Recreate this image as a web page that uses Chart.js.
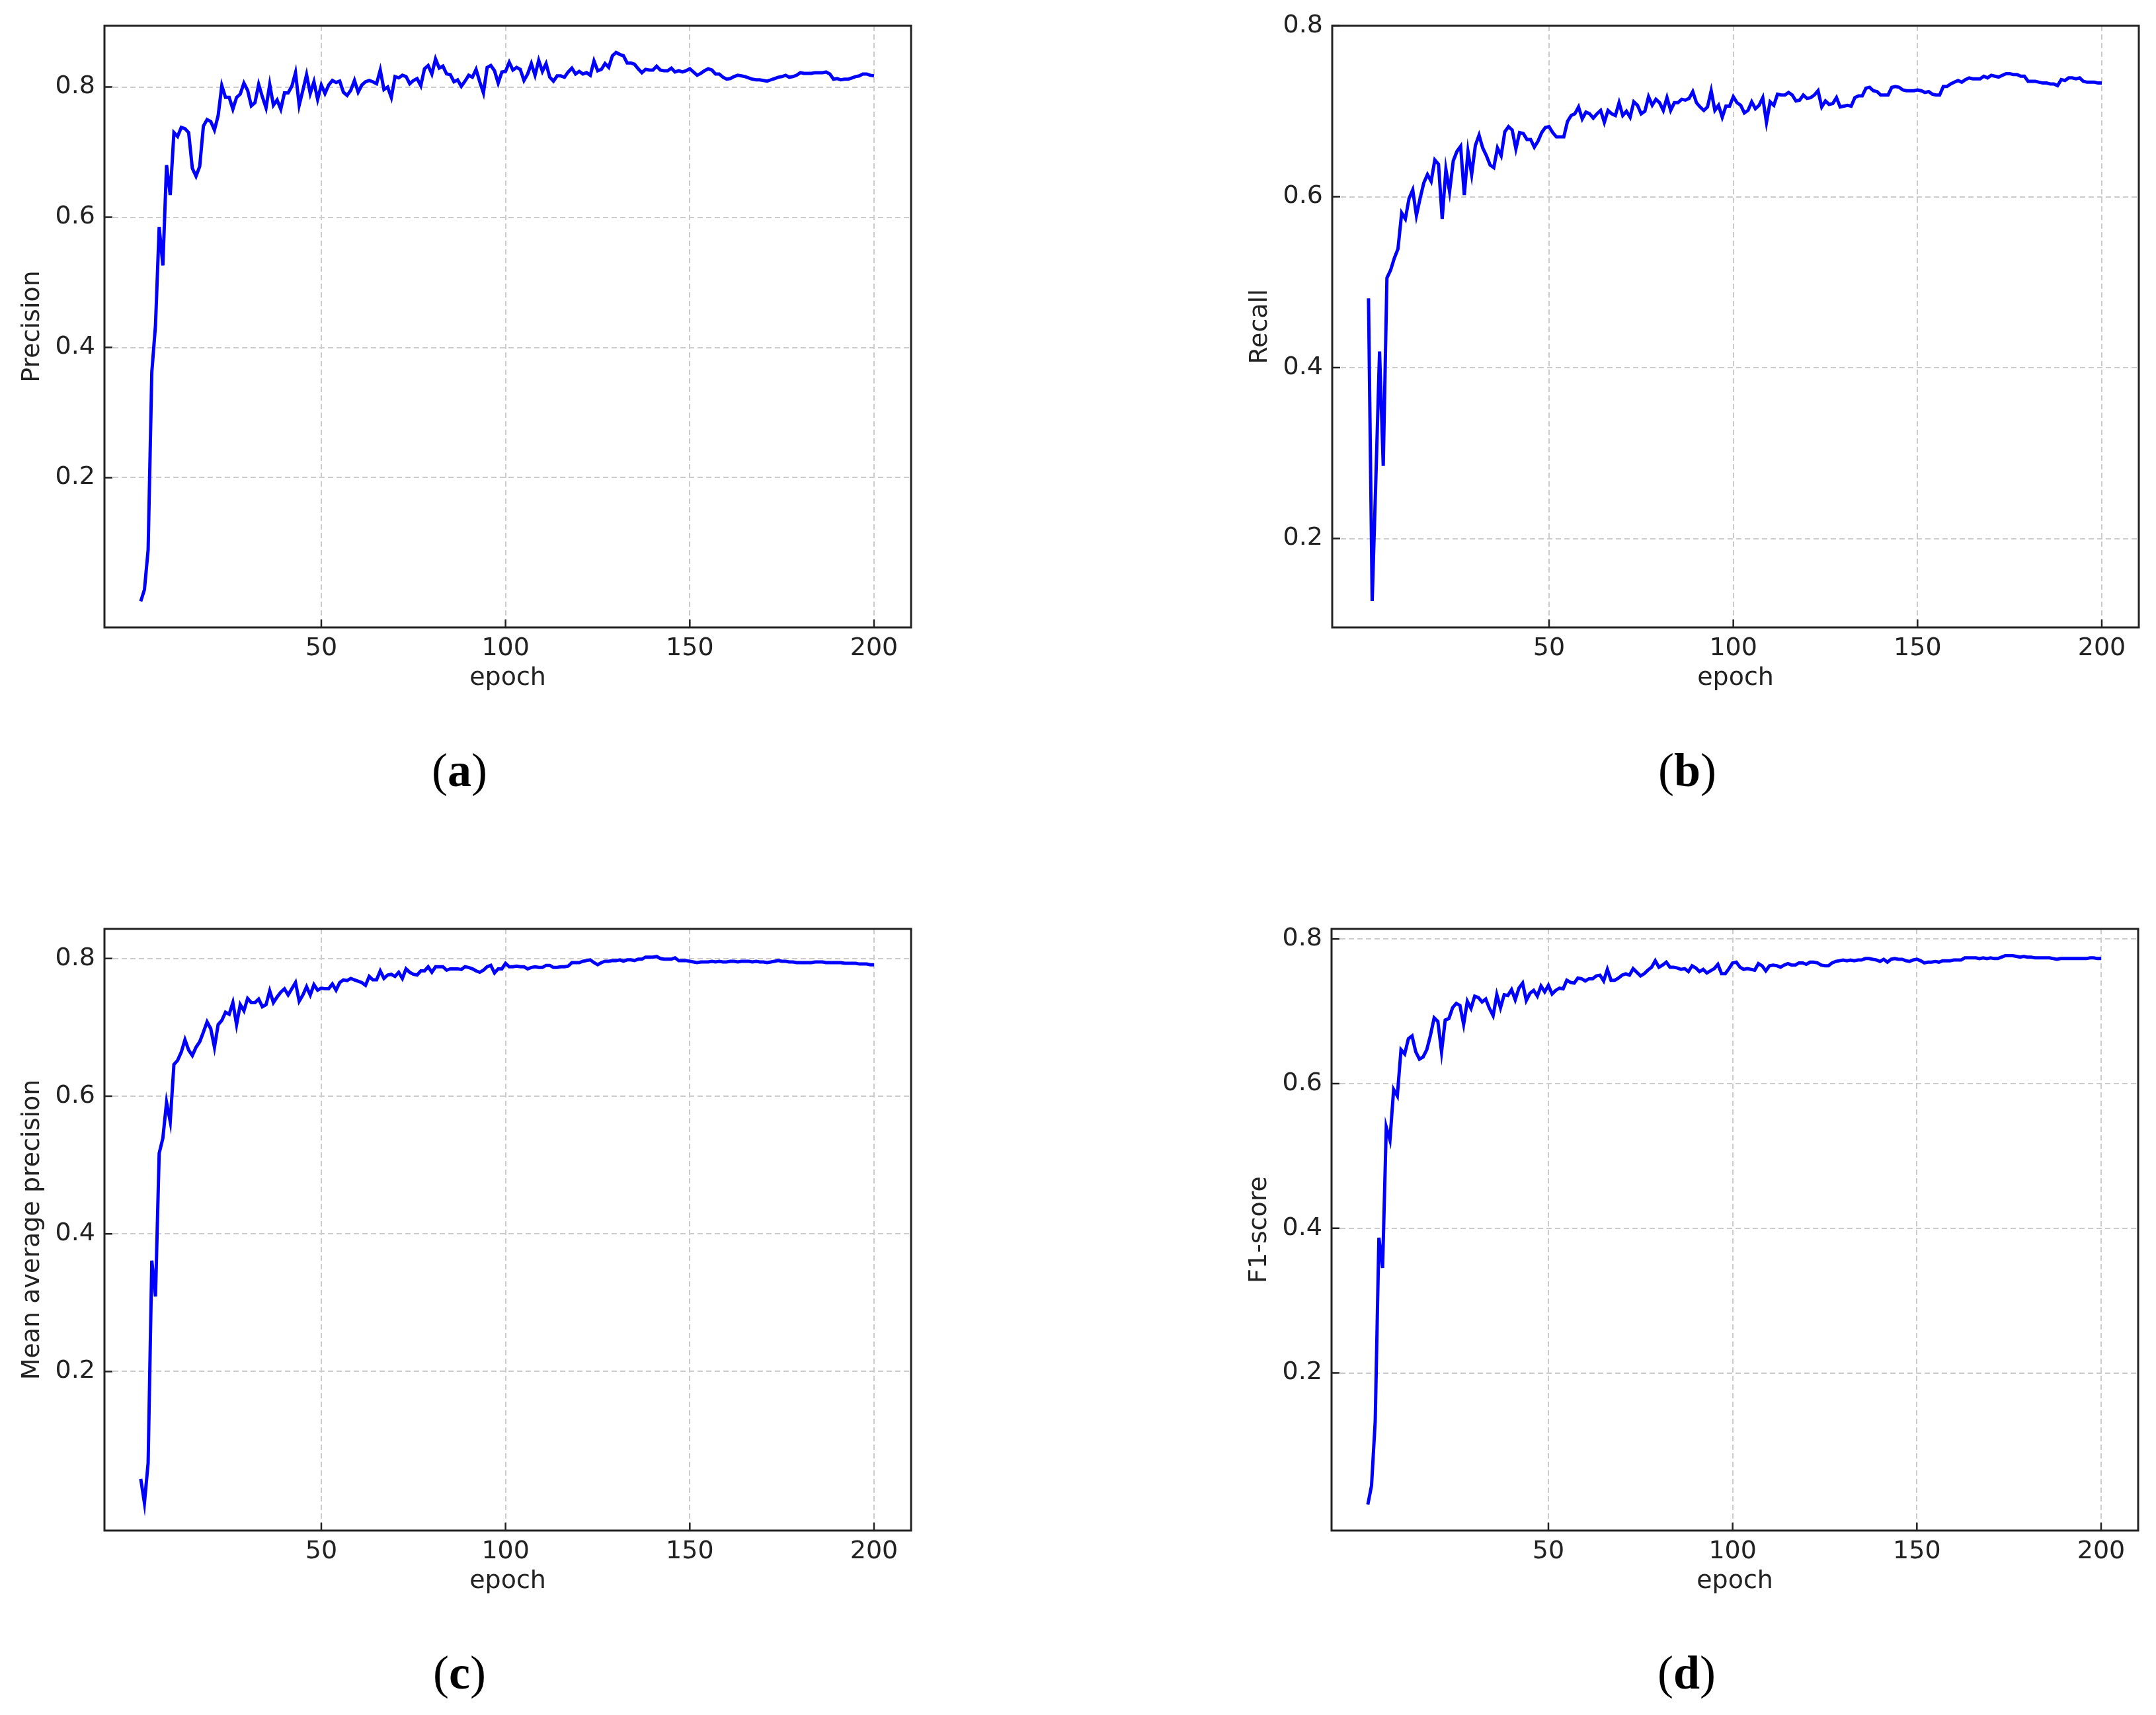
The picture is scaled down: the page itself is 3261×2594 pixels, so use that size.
<!DOCTYPE html>
<html>
<head>
<meta charset="utf-8">
<script src="https://cdn.jsdelivr.net/npm/chart.js@4"></script>
<style>
  body { margin: 0; background: #fff; width: 3261px; height: 2594px; position: relative; overflow: hidden; }
  .panel { position: absolute; }
  .tag { position: absolute; transform: translate(-50%, -50%); font-family: "Liberation Serif", serif; font-size: 72px; color: #000; }
</style>
</head>
<body>
<div class="panel" style="left:0px;top:0px"><canvas id="precChart" width="1398" height="1049"></canvas></div>
<div class="panel" style="left:1857px;top:0px"><canvas id="recChart" width="1398" height="1049"></canvas></div>
<div class="panel" style="left:0px;top:1366px"><canvas id="mapChart" width="1398" height="1049"></canvas></div>
<div class="panel" style="left:1856px;top:1366px"><canvas id="f1Chart" width="1398" height="1049"></canvas></div>
<div class="tag" style="left:695px;top:1165px">(<b>a</b>)</div>
<div class="tag" style="left:2552px;top:1165px">(<b>b</b>)</div>
<div class="tag" style="left:695px;top:2530px">(<b>c</b>)</div>
<div class="tag" style="left:2551px;top:2530px">(<b>d</b>)</div>
<script>
// values read per epoch (1..200)
const precision = [
  0.010,0.028,0.089,0.362,0.434,0.585,0.526,0.680,0.634,0.730,
  0.724,0.738,0.736,0.730,0.675,0.663,0.678,0.740,0.750,0.747,
  0.734,0.756,0.802,0.784,0.784,0.766,0.784,0.789,0.806,0.795,
  0.771,0.776,0.804,0.785,0.768,0.804,0.772,0.780,0.766,0.791,
  0.791,0.801,0.822,0.772,0.795,0.819,0.790,0.808,0.781,0.803,
  0.790,0.803,0.810,0.807,0.809,0.792,0.787,0.795,0.810,0.792,
  0.803,0.808,0.810,0.808,0.805,0.826,0.796,0.800,0.784,0.816,
  0.814,0.818,0.816,0.805,0.810,0.813,0.802,0.828,0.833,0.820,
  0.843,0.829,0.832,0.820,0.819,0.808,0.811,0.801,0.809,0.818,
  0.815,0.827,0.808,0.791,0.830,0.833,0.825,0.806,0.823,0.824,
  0.838,0.826,0.830,0.827,0.810,0.820,0.836,0.818,0.841,0.824,
  0.836,0.815,0.809,0.817,0.817,0.815,0.823,0.829,0.820,0.824,
  0.820,0.822,0.818,0.840,0.825,0.827,0.836,0.830,0.848,0.853,
  0.850,0.848,0.837,0.837,0.835,0.828,0.822,0.827,0.826,0.826,
  0.832,0.826,0.825,0.825,0.829,0.823,0.825,0.823,0.825,0.828,
  0.823,0.818,0.821,0.825,0.828,0.826,0.820,0.820,0.815,0.812,
  0.813,0.816,0.818,0.817,0.816,0.814,0.812,0.811,0.811,0.810,
  0.809,0.811,0.813,0.815,0.816,0.818,0.815,0.816,0.818,0.822,
  0.821,0.821,0.821,0.822,0.822,0.822,0.823,0.820,0.812,0.813,
  0.811,0.812,0.812,0.814,0.816,0.817,0.820,0.820,0.818,0.817
];
const recall = [
  0.481,0.127,0.270,0.419,0.285,0.505,0.514,0.528,0.539,0.581,
  0.574,0.598,0.608,0.578,0.598,0.616,0.626,0.618,0.643,0.638,
  0.574,0.632,0.606,0.642,0.653,0.659,0.602,0.653,0.626,0.660,
  0.672,0.657,0.648,0.637,0.634,0.657,0.648,0.676,0.682,0.678,
  0.656,0.675,0.674,0.667,0.667,0.658,0.665,0.675,0.681,0.682,
  0.675,0.670,0.670,0.670,0.688,0.695,0.697,0.705,0.691,0.699,
  0.697,0.692,0.697,0.701,0.687,0.701,0.697,0.695,0.710,0.695,
  0.700,0.693,0.711,0.707,0.697,0.700,0.717,0.707,0.714,0.710,
  0.701,0.716,0.701,0.710,0.710,0.714,0.713,0.715,0.723,0.710,
  0.705,0.701,0.705,0.724,0.701,0.707,0.693,0.706,0.706,0.717,
  0.710,0.707,0.698,0.701,0.711,0.703,0.707,0.716,0.687,0.711,
  0.707,0.720,0.719,0.719,0.722,0.719,0.712,0.713,0.719,0.715,
  0.716,0.719,0.724,0.705,0.712,0.708,0.709,0.716,0.705,0.706,
  0.707,0.706,0.716,0.718,0.718,0.727,0.728,0.724,0.723,0.719,
  0.719,0.719,0.728,0.729,0.728,0.725,0.724,0.724,0.724,0.725,
  0.724,0.722,0.723,0.720,0.719,0.719,0.729,0.729,0.732,0.734,
  0.736,0.734,0.737,0.739,0.738,0.738,0.738,0.741,0.739,0.742,
  0.741,0.740,0.742,0.744,0.744,0.743,0.743,0.741,0.741,0.735,
  0.735,0.735,0.734,0.733,0.733,0.732,0.732,0.730,0.737,0.736,
  0.739,0.739,0.738,0.739,0.735,0.734,0.734,0.734,0.733,0.733
];
const meanAvgPrecision = [
  0.044,0.009,0.067,0.361,0.309,0.517,0.539,0.591,0.563,0.646,
  0.652,0.664,0.682,0.667,0.659,0.671,0.679,0.693,0.708,0.698,
  0.671,0.704,0.710,0.722,0.719,0.736,0.704,0.733,0.724,0.742,
  0.736,0.736,0.741,0.730,0.733,0.753,0.736,0.744,0.751,0.756,
  0.747,0.756,0.765,0.738,0.747,0.759,0.747,0.762,0.754,0.757,
  0.756,0.756,0.763,0.754,0.765,0.769,0.768,0.771,0.769,0.767,
  0.765,0.761,0.774,0.769,0.769,0.782,0.771,0.776,0.777,0.774,
  0.780,0.771,0.785,0.780,0.777,0.776,0.782,0.782,0.788,0.780,
  0.788,0.788,0.788,0.783,0.785,0.785,0.785,0.784,0.788,0.787,
  0.785,0.782,0.780,0.783,0.788,0.790,0.779,0.785,0.785,0.793,
  0.788,0.788,0.789,0.788,0.788,0.785,0.787,0.788,0.787,0.787,
  0.790,0.790,0.787,0.787,0.788,0.788,0.789,0.794,0.794,0.794,
  0.796,0.797,0.798,0.794,0.791,0.794,0.796,0.796,0.797,0.797,
  0.798,0.796,0.798,0.798,0.797,0.799,0.799,0.802,0.802,0.802,
  0.803,0.800,0.799,0.799,0.799,0.801,0.797,0.797,0.797,0.796,
  0.795,0.794,0.795,0.795,0.795,0.796,0.795,0.796,0.795,0.795,
  0.796,0.796,0.795,0.796,0.796,0.796,0.795,0.796,0.795,0.795,
  0.794,0.795,0.796,0.797,0.796,0.796,0.795,0.795,0.794,0.794,
  0.794,0.794,0.794,0.795,0.795,0.795,0.794,0.794,0.794,0.794,
  0.794,0.793,0.793,0.793,0.793,0.792,0.792,0.792,0.791,0.791
];
const f1Score = [
  0.018,0.044,0.133,0.387,0.345,0.540,0.522,0.592,0.583,0.647,
  0.641,0.662,0.666,0.644,0.634,0.637,0.647,0.667,0.691,0.686,
  0.644,0.688,0.690,0.705,0.711,0.708,0.682,0.714,0.704,0.721,
  0.719,0.713,0.717,0.704,0.694,0.723,0.705,0.723,0.722,0.730,
  0.716,0.732,0.739,0.715,0.725,0.729,0.721,0.735,0.727,0.736,
  0.724,0.729,0.732,0.731,0.743,0.740,0.739,0.746,0.745,0.742,
  0.745,0.745,0.749,0.750,0.742,0.758,0.743,0.743,0.746,0.750,
  0.752,0.750,0.759,0.754,0.749,0.752,0.757,0.761,0.770,0.761,
  0.764,0.768,0.761,0.761,0.760,0.758,0.759,0.755,0.763,0.760,
  0.755,0.758,0.753,0.756,0.759,0.765,0.752,0.752,0.759,0.767,
  0.768,0.761,0.758,0.759,0.758,0.757,0.766,0.763,0.756,0.763,
  0.764,0.763,0.761,0.764,0.766,0.764,0.764,0.767,0.767,0.765,
  0.768,0.768,0.767,0.764,0.763,0.763,0.767,0.769,0.770,0.771,
  0.770,0.771,0.770,0.771,0.771,0.773,0.773,0.772,0.771,0.769,
  0.772,0.768,0.772,0.773,0.772,0.772,0.770,0.769,0.771,0.772,
  0.770,0.767,0.768,0.768,0.769,0.768,0.770,0.770,0.770,0.771,
  0.771,0.771,0.774,0.774,0.774,0.774,0.773,0.774,0.773,0.774,
  0.773,0.773,0.775,0.777,0.777,0.777,0.776,0.775,0.776,0.775,
  0.775,0.774,0.774,0.774,0.774,0.774,0.773,0.772,0.773,0.773,
  0.773,0.773,0.773,0.773,0.773,0.773,0.774,0.774,0.773,0.773
];

const epochTicks = [50, 100, 150, 200];
const scoreTicks = [0.2, 0.4, 0.6, 0.8];

const tickFont = { family: "DejaVu Sans", size: 38 };
const inkColor = "#222";

// box round the plot area plus short inward tick marks
const frameAndTicks = {
  id: "frameAndTicks",
  afterDraw(chart) {
    const { ctx, chartArea: a, scales } = chart;
    ctx.save();
    ctx.strokeStyle = inkColor;
    ctx.lineWidth = 3;
    ctx.strokeRect(a.left, a.top, a.right - a.left, a.bottom - a.top);
    ctx.lineWidth = 2.5;
    ctx.beginPath();
    scales.x.ticks.forEach(t => {
      const px = scales.x.getPixelForValue(t.value);
      ctx.moveTo(px, a.bottom);
      ctx.lineTo(px, a.bottom - 12);
    });
    scales.y.ticks.forEach(t => {
      const py = scales.y.getPixelForValue(t.value);
      ctx.moveTo(a.left, py);
      ctx.lineTo(a.left + 12, py);
    });
    ctx.stroke();
    ctx.restore();
  }
};

function createLineChart(id, label, values, yMin, yMax) {
  const ctx = document.getElementById(id).getContext("2d");
  return new Chart(ctx, {
    type: "line",
    data: {
      datasets: [
        {
          label: label,
          data: values.map((v, i) => ({ x: i + 1, y: v })),
          borderColor: "#0000ff",
          borderWidth: 5,
          pointRadius: 0,
          tension: 0,
          fill: false
        }
      ]
    },
    options: {
      responsive: false,
      animation: false,
      devicePixelRatio: 1,
      layout: { padding: { top: 39, right: 20, left: 0, bottom: 0 } },
      plugins: { legend: { display: false }, tooltip: { enabled: false } },
      scales: {
        x: {
          type: "linear",
          min: -8.85,
          max: 210.05,
          afterBuildTicks: s => { s.ticks = epochTicks.map(v => ({ value: v })); },
          afterFit: s => { s.height = 100; },
          ticks: { font: tickFont, color: inkColor, padding: 9, maxRotation: 0, callback: v => String(v) },
          grid: { color: "#cccccc", lineWidth: 2, drawTicks: false },
          border: { display: false, dash: [8, 5] },
          title: { display: true, text: "epoch", font: tickFont, color: inkColor, padding: { top: 0, bottom: 0 } }
        },
        y: {
          min: yMin,
          max: yMax,
          afterBuildTicks: s => { s.ticks = scoreTicks.map(v => ({ value: v })); },
          afterFit: s => { s.width = 158; },
          ticks: { font: tickFont, color: inkColor, padding: 14, callback: v => v.toFixed(1) },
          grid: { color: "#cccccc", lineWidth: 2, drawTicks: false },
          border: { display: false, dash: [8, 5] },
          title: { display: true, text: label, font: tickFont, color: inkColor, padding: { top: 26, bottom: 0 } }
        }
      }
    },
    plugins: [frameAndTicks]
  });
}

const precChart = createLineChart("precChart", "Precision", precision, -0.03, 0.894);
const recChart = createLineChart("recChart", "Recall", recall, 0.096, 0.8);
const mapChart = createLineChart("mapChart", "Mean average precision", meanAvgPrecision, -0.031, 0.843);
const f1Chart = createLineChart("f1Chart", "F1-score", f1Score, -0.018, 0.814);
</script>
</body>
</html>
